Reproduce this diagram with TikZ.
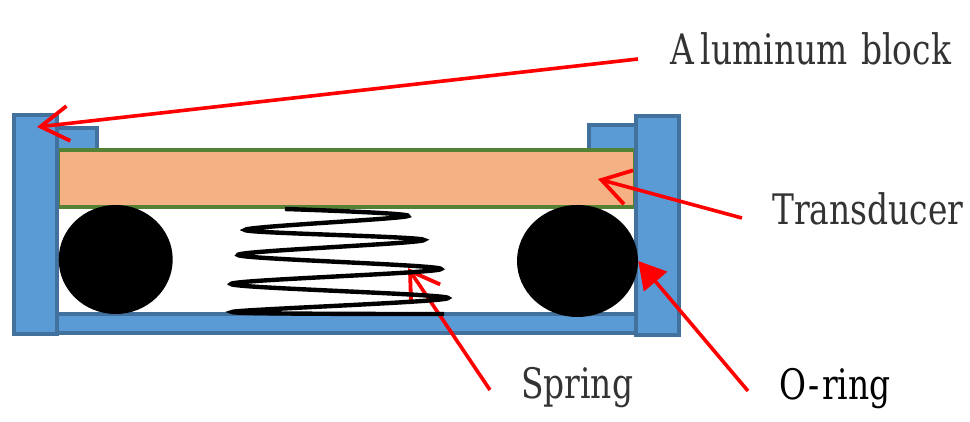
\documentclass[tikz,border=0pt]{standalone}
\usepackage{fontspec}
\setmainfont[FakeStretch=0.87]{DejaVu Serif Condensed}
\usetikzlibrary{arrows.meta,shapes.geometric}

\tikzset{
	metal/.style={draw=metalEdge,fill=metalFill,line width=4pt},
	oring/.style={ellipse,fill=black,inner sep=0pt},
	label/.style={inner sep=0pt,text=labelGray,font=\fontsize{42}{44}\selectfont},
	pointer/.style={draw=red,line width=3.6pt,-{Straight Barb[length=28pt,width=35pt,line width=3.8pt]}},
	solidpointer/.style={draw=red,line width=3.6pt,-{Triangle[length=27pt,width=30pt]}}
}
\definecolor{metalEdge}{HTML}{41719C}
\definecolor{metalFill}{HTML}{5B9BD5}
\definecolor{crystalFill}{HTML}{F4B183}
\definecolor{crystalEdge}{HTML}{548235}
\definecolor{labelGray}{HTML}{333333}

\begin{document}
\begin{tikzpicture}[x=1pt,y=-1pt]
	\useasboundingbox (0,0) rectangle (970,422);

	\draw[metal] (57,314) rectangle (636,333);
	\draw[metal] (57,128) rectangle (97,150);
	\draw[metal] (589,125) rectangle (636,150);
	\draw[draw=crystalEdge,fill=crystalFill,line width=4pt] (58,150) rectangle (635,207);
	\draw[metal] (14,115) rectangle (57,334);
	\draw[metal] (636,116) rectangle (679,335);

	\node[oring,minimum width=114pt,minimum height=109pt](ringL) at (115.7,259.5){};
	\node[oring,minimum width=121pt,minimum height=112pt](ringR) at (577.5,261){};

	\node[label,anchor=base west](blockLabel) at (670,65){A\kern7pt luminum\kern3pt\ block};
	\node[label,anchor=base west](crystalLabel) at (772,225){Transducer};
	\node[label,anchor=base west](springLabel) at (521,398){Spring};
	\node[label,anchor=base west,text=black](ringLabel) at (779,399){O\kern2pt-\kern3pt ring};

	\coordinate (blockTail) at (638,59);
	\coordinate (blockTip) at (37,127);
	\coordinate (crystalTail) at (742,218);
	\coordinate (crystalTip) at (598,179);
	\coordinate (springTail) at (490,390);
	\coordinate (springTip) at (408,268);
	\coordinate (ringTail) at (748,391);

	\draw[pointer] (blockTail) -- (blockTip);
	\draw[pointer] (crystalTail) -- (crystalTip);
	\draw[pointer] (springTail) -- (springTip);
	\draw[solidpointer] (ringTail) -- (ringR.east);

	% coil, top to bottom
	\draw[black,line width=4.4pt] plot[smooth,tension=.5] coordinates {
		(285,209) (408,216) (245,230) (424,240) (238,255)
		(441,269) (231,284) (448,298) (232,312) (444,314)};
\end{tikzpicture}
\end{document}
